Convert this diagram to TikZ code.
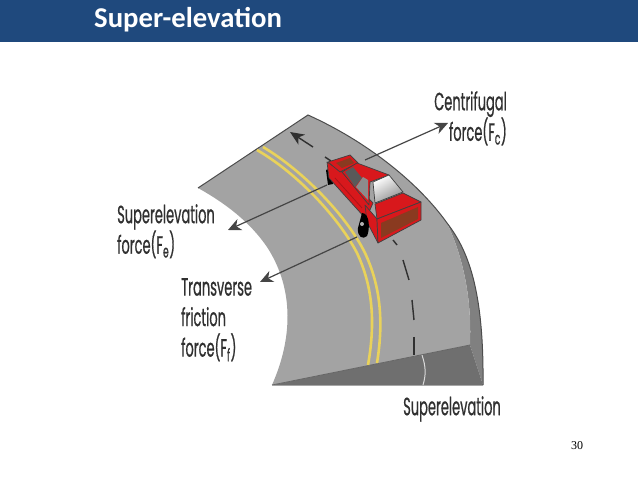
\documentclass[tikz,border=0pt]{standalone}
\usepackage{fontspec}
\setmainfont{Liberation Sans}
\newfontfamily\titlefont{Carlito}
\newfontfamily\pagefont{Liberation Serif}
\newfontfamily\labelfont[FakeStretch=0.52,FakeBold=0.6]{Poppins}
\usepackage{xcolor}
\usetikzlibrary{arrows.meta,positioning}
\definecolor{bandblue}{HTML}{1F497D}
\definecolor{roadgray}{HTML}{A3A3A3}
\definecolor{sidegray}{HTML}{6F6F6F}
\definecolor{stripgray}{HTML}{808080}
\definecolor{lineyellow}{HTML}{E9D25A}
\definecolor{carred}{HTML}{D8181C}
\definecolor{darkred}{HTML}{A81418}
\definecolor{carbrown}{HTML}{8A3A20}
\definecolor{inkgray}{HTML}{303030}

\begin{document}
\begin{tikzpicture}[
x=1pt,y=-1pt,
force/.style={-{Stealth[length=13pt,width=12pt,inset=4pt]},line width=1.2pt,draw=inkgray!90},
yellowline/.style={line width=2.6pt,draw=lineyellow},
middash/.style={line width=1.4pt,draw=inkgray},
forcelabel/.style={font=\labelfont\fontsize{25}{30.5}\selectfont,text=inkgray,inner sep=0pt},
body/.style={draw=black!75,line width=0.7pt,line join=round}
]
    \useasboundingbox (0,0) rectangle (638,478);

    % Header band
    \fill [bandblue] (0,0) rectangle (638,42);
    \node (title) [anchor=west,text=white,inner sep=0pt,font=\titlefont\bfseries\fontsize{28.7}{32}\selectfont] at (94,20) {Super-elevation};
    \node (pagenum) [inner sep=0pt,font=\pagefont\fontsize{12}{14}\selectfont] at (577,446) {30};

    % Road
    \fill [stripgray] (447,223) .. controls (468,250) and (484,290) .. (483,385) -- (470,345)
        .. controls (472,295) and (462,255) .. (447,223) -- cycle;
    \fill [sidegray] (272,385) -- (470,345) -- (483,385) -- cycle;
    \fill [roadgray] (198,188) -- (308,115) .. controls (370,143) and (420,185) .. (447,223)
        .. controls (462,255) and (472,295) .. (470,345) -- (272,385)
        .. controls (292,340) and (295,290) .. (267,247) .. controls (250,222) and (225,203) .. (198,188) -- cycle;
    \draw [line width=1pt,black!70] (198,188) -- (308,115) .. controls (370,143) and (420,185) .. (447,223)
        .. controls (468,250) and (484,290) .. (483,385);
    \draw [line width=0.8pt,black!60] (272,385) -- (470,345);
    \draw [line width=0.8pt,black!35] (272,385) -- (483,385);
    \draw [line width=1pt,white!85!black] (422,355) .. controls (426,367) and (426,375) .. (423,385);

    % Yellow lines
    \draw [yellowline] (257,150) .. controls (300,175) and (340,220) .. (357,253)
        .. controls (372,285) and (376,320) .. (368,365);
    \draw [yellowline] (263,147) .. controls (305,172) and (348,218) .. (365,253)
        .. controls (380,285) and (384,320) .. (377,363);

    % Centre line
    \coordinate (tailtop) at (313,147);
    \coordinate (headtop) at (290,132);
    \draw [middash,-{Stealth[length=14pt,width=12pt,inset=4pt]}] (tailtop) -- (headtop);
    \draw [middash] (325,157) -- (331,161);
    \draw [middash] (393,240) -- (397,245);
    \draw [middash] (403,260) -- (409,280);
    \draw [middash] (412,300) -- (414,320);
    \draw [middash] (414,337) -- (414,355);

    % Force arrows
    \coordinate (carfront) at (327,185);
    \coordinate (carroof) at (365,160);
    \coordinate (carwheel) at (357,237);
    \coordinate (tipc) at (448,123);
    \coordinate (tipe) at (228,230);
    \coordinate (tipf) at (260,282);
    \draw [force] (carroof) -- (tipc);
    \draw [force] (carfront) -- (tipe);
    \draw [force] (carwheel) -- (tipf);

    % Car
    \fill [black] (326,170) -- (332,168) -- (333,184) -- (328,185) -- cycle;
    \draw [body,fill=carred] (327,162) -- (342,172) -- (373,203) -- (366,219) -- (329,178) -- cycle;
    \draw [darkred,line width=0.8pt] (335,178) -- (362,208);
    \draw [body,fill=carred] (328,162) -- (350,155) -- (358,163) -- (340,172) -- cycle;
    \fill [carbrown] (336,163) -- (350,158) -- (354,163) -- (342,168) -- cycle;
    \draw [body,fill=carred] (342,172) -- (357,163) -- (389,175) -- (370,182) -- (369,205) -- cycle;
    \fill [black!65] (345,172) -- (353,167) -- (362,178) -- (355,187) -- cycle;
    \fill [black!45] (356,187) -- (363,177) -- (368,180) -- (368,200) -- cycle;
    \draw [body,top color=white,bottom color=black!45,shading angle=30] (373,182) -- (389,175) -- (403,192) -- (375,203) -- cycle;
    \draw [body,fill=carred] (375,204) -- (403,193) -- (421,202) -- (377,219) -- cycle;
    \draw [body,fill=carred] (365,205) -- (377,219) -- (378,243) -- (367,222) -- cycle;
    \draw [body,fill=carred] (377,219) -- (421,202) -- (421,220) -- (378,243) -- cycle;
    \fill [carbrown] (381,223) -- (418,207) -- (418,219) -- (381,238) -- cycle;
    \fill [black] (362,213) .. controls (370,213) and (370,230) .. (367,236) .. controls (363,240) and (357,237) .. (358,228) -- cycle;
    \fill [white!70!black] (362,224) circle [radius=2];

    % Labels
    \node (labelc) [forcelabel,anchor=north east,align=right] at (507,91) {Centrifugal\\force(F\textsubscript{c})};
    \node (labele) [forcelabel,anchor=north west,align=left] at (117,204) {Superelevation\\force(F\textsubscript{e})};
    \node (labelf) [forcelabel,anchor=north west,align=left] at (181,278) {Transverse\\friction\\force(F\textsubscript{f})};
    \node (labelh) [forcelabel,anchor=north west] at (403,396) {Superelevation};
\end{tikzpicture}
\end{document}
